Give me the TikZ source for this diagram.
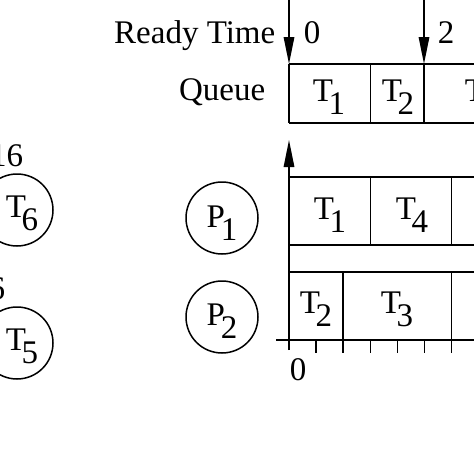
\documentclass[tikz,border=0pt]{standalone}
\usepackage{fontspec}
\setmainfont{Liberation Serif}
\usetikzlibrary{arrows.meta}
\newcommand\Sb[2]{#1\kern-0.13em\raisebox{-0.40em}{#2}}
\begin{document}
\begin{tikzpicture}[x=1pt,y=-1pt,line width=1.5pt,
  lbl/.style={font=\fontsize{33}{33}\selectfont,inner sep=0pt,anchor=base},
  proc/.style={draw,circle,minimum size=72pt,inner sep=0pt},
  arr/.style={-{Triangle[length=27pt,width=10.5pt]}}]
\useasboundingbox (0,0) rectangle (474,474);
% ready time arrows
\coordinate (rtA) at (289,0);
\coordinate (rtB) at (424,0);
\coordinate (qA) at (289,64);
\coordinate (qB) at (424,64);
\node[lbl,anchor=base east] (rtlab) at (276,43) {Ready Time};
\node[lbl,anchor=base west] (rt0) at (303,43) {0};
\node[lbl,anchor=base west] (rt2) at (437,43) {2};
% queue
\node[lbl,anchor=base east] (qlab) at (266,100) {Queue};
\draw (qA) -- (490,64) (289,123) -- (490,123) (qA) -- (289,123);
\draw (370.5,64) -- (370.5,123) (qB) -- (424,123);
\draw[arr] (rtA) -- (qA);
\draw[arr] (rtB) -- (qB);
\node[lbl] (qt1) at (329,101) {\Sb{T}{1}};
\node[lbl] (qt2) at (398,101) {\Sb{T}{2}};
\node[lbl,anchor=base west] (qt3) at (464,101) {\Sb{T}{3}};
% gantt chart
\coordinate (ax0) at (289,350);
\coordinate (axtop) at (289,140);
\draw[arr] (ax0) -- (axtop);
\draw (276,340) -- (490,340);
\foreach \k in {1,...,6} \draw (289+27.1*\k,340) -- (289+27.1*\k,353);
\draw (289,177) -- (490,177) (289,245) -- (490,245);
\draw (370.3,177) -- (370.3,245) (451.6,177) -- (451.6,245);
\draw (289,272) -- (490,272);
\draw (343.2,272) -- (343.2,353) (451.6,272) -- (451.6,353);
\node[lbl] (g11) at (330,219) {\Sb{T}{1}};
\node[lbl] (g14) at (412,219) {\Sb{T}{4}};
\node[lbl] (g22) at (316,313) {\Sb{T}{2}};
\node[lbl] (g23) at (397,313) {\Sb{T}{3}};
\node[lbl] (zero) at (298,380) {0};
% processors
\node[proc] (p1) at (222,218) {};
\node[proc] (p2) at (222,317) {};
\node[lbl] (p1l) at (222,227) {\Sb{P}{1}};
\node[lbl] (p2l) at (222,325) {\Sb{P}{2}};
% tasks on left
\node[proc] (t6) at (17,210) {};
\node[proc] (t5) at (17,343) {};
\node[lbl] (t6l) at (22,217) {\Sb{T}{6}};
\node[lbl] (t5l) at (22,350) {\Sb{T}{5}};
\node[lbl,anchor=base east] (n16) at (24,166) {16};
\node[lbl,anchor=base east] (n6) at (6,299) {6};
\end{tikzpicture}
\end{document}
